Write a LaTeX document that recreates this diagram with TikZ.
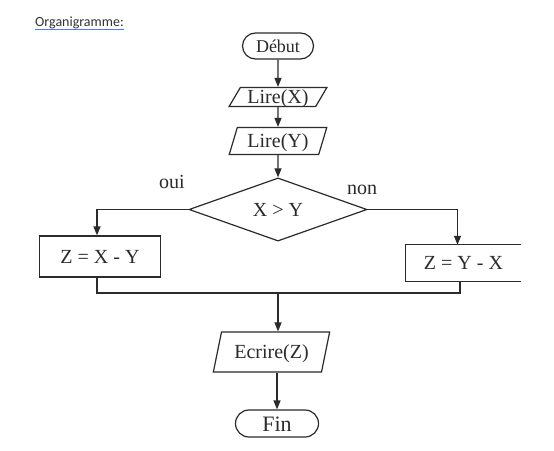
\documentclass[tikz,border=0pt]{standalone}
\usepackage{fontspec}
\setmainfont{Liberation Serif}
\newfontfamily\titlefont{Carlito}
\usetikzlibrary{arrows.meta,shapes.geometric,shapes.misc}
\definecolor{ink}{HTML}{2B2B2B}
\definecolor{titlecol}{HTML}{333333}
\definecolor{ulblue}{HTML}{4F7FD6}
\tikzset{
  line/.style={draw=ink, line width=1.2pt},
  arr/.style={line, -{Triangle[length=9pt,width=7pt]}},
  basefont/.style={font=\fontsize{20}{24}\selectfont, text=ink},
  term/.style={rounded rectangle, draw=ink, line width=1.2pt, inner sep=0pt, text=ink},
  io/.style={trapezium, trapezium stretches=true, trapezium left angle=65, trapezium right angle=115,
             draw=ink, line width=1.2pt, inner sep=0pt, basefont, text height=13pt, text depth=0pt},
  proc/.style={rectangle, draw=ink, line width=1.2pt, inner sep=0pt, basefont, text height=13pt, text depth=0pt},
  openproc/.style={rectangle, inner sep=0pt, basefont, text height=13pt, text depth=0pt},
  dec/.style={diamond, draw=ink, line width=1.2pt, inner sep=0pt, basefont, text height=13pt, text depth=0pt},
  lbl/.style={basefont, inner sep=0pt}
}
\begin{document}
\begin{tikzpicture}[x=1pt,y=-1pt]
\useasboundingbox[fill=white] (0,0) rectangle (554,450);

% title
\node[anchor=base west, inner sep=0pt, font=\titlefont\fontsize{14}{16}\selectfont, text=titlecol] (title) at (35,26) {Organigramme:};
\draw[ulblue, line width=0.9pt] ([yshift=-3pt]title.base west) -- ([yshift=-3pt]title.base east);

% nodes
\node[term, minimum width=71pt, minimum height=26pt, font=\fontsize{18}{22}\selectfont, text height=12pt, text depth=0pt] (debut) at (278,46) {Début};
\node[io, trapezium left angle=55, trapezium right angle=125, minimum width=98pt, minimum height=19pt] (lirex) at (278,97) {Lire(X)};
\node[io, minimum width=98pt, minimum height=27pt] (lirey) at (278,141) {Lire(Y)};
\node[dec, minimum width=178pt, minimum height=51pt] (cond) at (278,209.5) {X > Y};
\node[proc, minimum width=121pt, minimum height=41pt] (zxy) at (100,256.5) {Z = X - Y};
\node[openproc, minimum width=115pt, minimum height=36pt] (zyx) at (463.5,263) {Z = Y - X};
\node[io, minimum width=117pt, minimum height=40pt] (ecrire) at (271.5,352) {Ecrire(Z)};
\node[term, minimum width=83pt, minimum height=27pt, font=\fontsize{22}{26}\selectfont, text height=15pt, text depth=0pt] (fin) at (277,423.5) {Fin};

\node[lbl] (oui) at (172,182) {oui};
\node[lbl] (non) at (362,190) {non};

% open box border (right side missing)
\draw[line] (zyx.north east) -- (zyx.north west) -- (zyx.south west) -- (zyx.south east);

% junction points
\coordinate (jl) at (97,293);
\coordinate (jr) at (460,293);
\coordinate (jm) at (278,293);

% connectors
\draw[arr] (debut) -- (lirex);
\draw[arr] (lirex) -- (lirey);
\draw[arr] (lirey) -- (cond);
\draw[arr] (cond.west) -| ([xshift=-3pt]zxy.north);
\draw[arr] (cond.east) -| ([xshift=-6pt]zyx.north);
\draw[line] ([xshift=-3pt]zxy.south) -- (jl) -- (jr) -- ([xshift=-3.5pt]zyx.south);
\draw[arr] (jm) -- (jm |- ecrire.north);
\draw[arr] (ecrire.south -| fin.north) -- (fin.north);
\end{tikzpicture}
\end{document}
